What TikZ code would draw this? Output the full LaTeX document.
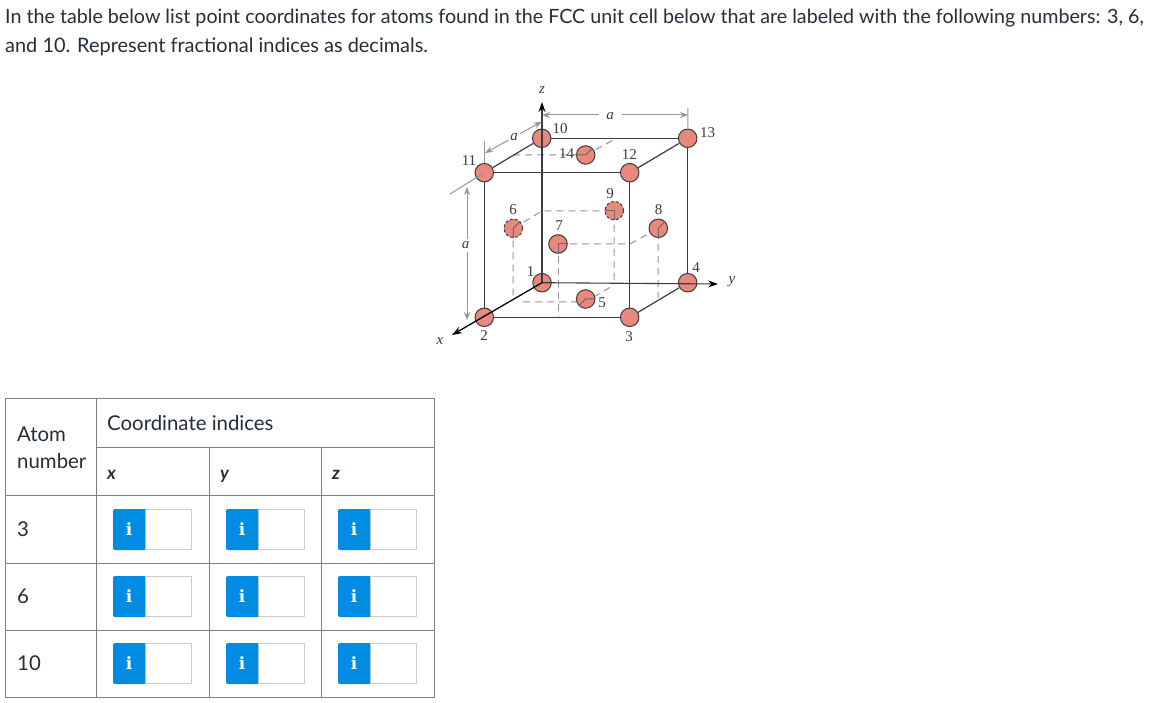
\documentclass[tikz,border=0pt]{standalone}
\usepackage{fontspec}
\setmainfont{Lato}
\newfontfamily\figfont{Liberation Serif}
\newfontfamily\iconfont{DejaVu Serif}
\usepackage{xcolor}
\usepackage{tikz}
\usetikzlibrary{arrows.meta,calc}
\definecolor{ink1} {RGB} {36, 46, 58}
\definecolor{rule1} {RGB} {128, 128, 128}
\definecolor{box1} {RGB} {204, 204, 204}
\definecolor{blue1} {RGB} {0, 140, 226}
\definecolor{atom1} {RGB} {233, 137, 126}
\definecolor{edge1} {RGB} {60, 60, 60}
\definecolor{dim1} {RGB} {150, 150, 150}
\tikzstyle{atom}=[circle,fill=atom1,draw=edge1,line width=1pt,minimum size=18.5pt,inner sep=0pt]
\tikzstyle{backatom}=[atom,densely dashed]
\tikzstyle{cube}=[draw=edge1,line width=1.2pt]
\tikzstyle{hidden}=[draw=dim1,line width=1pt,dash pattern=on 7pt off 5pt]
\tikzstyle{stub}=[draw=dim1!70!black,line width=1pt]
\tikzstyle{dimline}=[draw=dim1,line width=1pt,>={Stealth[length=8pt,width=6pt]}]
\tikzstyle{axis}=[draw=edge1,line width=1.1pt,->,>={Stealth[length=10pt,width=7pt,black]}]
\tikzstyle{fig}=[font=\figfont\fontsize{15}{15}\selectfont,text=edge1,inner sep=0pt]
\tikzstyle{figi}=[fig,font=\figfont\itshape\fontsize{15}{15}\selectfont]
\tikzstyle{txt}=[font=\fontsize{19.67}{23}\selectfont,text=ink1,inner sep=0pt,anchor=base west]
\tikzstyle{cell}=[txt,font=\fontsize{20.4}{24}\selectfont]
\tikzstyle{head}=[txt,font=\itshape\bfseries\fontsize{18}{20}\selectfont]
\tikzstyle{grid}=[draw=rule1,line width=1pt]
\begin{document}
\begin{tikzpicture}[x=1pt,y=-1pt]
  \useasboundingbox[fill=white] (0,0) rectangle (1152,703);
  % question text
  \node[txt] (line1) at (5,24) {In the table below list point coordinates for atoms found in the FCC unit cell below that are labeled with the following numbers: 3, 6,};
  \node[txt,font=\fontsize{19.95}{23}\selectfont] (line2) at (5,53) {and 10. Represent fractional indices as decimals.};
  % free ends of axes and helpers
  \coordinate (ztip) at (542,102);
  \coordinate (ytip) at (718,284);
  \coordinate (xtip) at (452,335);
  \coordinate (h14a) at (513,155);
  \coordinate (h14b) at (617,138);
  \coordinate (h5a) at (523,302);
  \coordinate (h5b) at (614,285);
  \coordinate (h69) at (542,211);
  \coordinate (h78) at (630,244);
  \coordinate (h6d) at (513,296);
  \coordinate (h7d) at (558,317);
  \coordinate (h8d) at (658,298);
  % hidden lines first, atoms cover them
  \draw[hidden] (h14a) -- (585.7,155) -- (h14b);
  \draw[hidden] (h5a) -- (585.7,302) -- (h5b);
  \draw[hidden] (513.3,228.3) -- (h69) -- (614.3,210.7) -- (h5b);
  \draw[hidden] (513.3,228.3) -- (h6d);
  \draw[hidden] (558,244) -- (h7d);
  \draw[hidden] (558,244) -- (h78) -- (658.3,228.3) -- (h8d);
  % atoms
  \node[atom] (a10) at (541.7,138.3) {};
  \node[atom] (a13) at (687.7,138.3) {};
  \node[atom] (a11) at (484.3,172.7) {};
  \node[atom] (a12) at (629.7,172.7) {};
  \node[atom] (a1) at (542,282.7) {};
  \node[atom] (a4) at (687.7,282.7) {};
  \node[atom] (a2) at (484.3,317.3) {};
  \node[atom] (a3) at (629.7,317.3) {};
  \node[atom] (a14) at (585.7,155) {};
  \node[atom] (a5) at (585.7,299) {};
  \node[backatom] (a6) at (513.3,228.3) {};
  \node[atom] (a7) at (558,244) {};
  \node[atom] (a8) at (658.3,228.3) {};
  \node[backatom] (a9) at (614.3,210.7) {};
  % ends of the hidden lines inside the atoms
  \draw[stub] (a6.south) -- (a6.center) -- (a6.north east);
  \draw[stub] (a7.south) -- (a7.center) -- (a7.east);
  \draw[stub] (a8.south) -- (a8.center) -- (a8.north east);
  \draw[stub] (a9.south) -- (a9.center) -- (a9.west);
  \draw[stub] (a14.west) -- (a14.center) -- (a14.north east);
  \draw[stub] (a5.south west) -- (a5.center) -- (a5.east);
  % cube edges
  \draw[cube] (a10) -- (a13);
  \draw[cube] (a11) -- (a12);
  \draw[cube] (a2) -- (a3);
  \draw[cube] (a11) -- (a10);
  \draw[cube] (a12) -- (a13);
  \draw[cube] (a3) -- (a4);
  \draw[cube] (a11) -- (a2);
  \draw[cube] (a12) -- (a3);
  \draw[cube] (a13) -- (a4);
  % axes
  \draw[axis] (a1.center) -- (ztip);
  \draw[axis] (a1.center) -- (ytip);
  \draw[axis,draw=black,line width=1.3pt] (a1.center) -- (xtip);
  % dimension lines
  \coordinate (dza) at (542,115);
  \coordinate (dzb) at (688,115);
  \coordinate (dxa) at (485,153);
  \coordinate (dxb) at (541.7,121.7);
  \coordinate (dva) at (467,187);
  \coordinate (dvb) at (467,320);
  \coordinate (dha) at (450,194);
  \coordinate (dtz) at (688,108);
  \coordinate (dtx) at (484.3,141);
  \draw[dimline] (dtz) -- (a13);
  \draw[dimline] (dtx) -- (a11);
  \draw[dimline] (dha) -- (a11.center);
  \draw[dimline,->] ($(dza)!0.39!(dzb)$) -- (dza);
  \draw[dimline,->] ($(dza)!0.55!(dzb)$) -- (dzb);
  \draw[dimline,->] ($(dxa)!0.41!(dxb)$) -- (dxa);
  \draw[dimline,->] ($(dxa)!0.62!(dxb)$) -- (dxb);
  \draw[dimline,->] ($(dva)!0.39!(dvb)$) -- (dva);
  \draw[dimline,->] ($(dva)!0.49!(dvb)$) -- (dvb);
  % figure labels
  \node[figi] (lz) at (542,90) {z};
  \node[figi] (ly) at (732,282) {y};
  \node[figi] (lx) at (440,341) {x};
  \node[figi] (la1) at (610,115.7) {a};
  \node[figi] (la2) at (514,136.7) {a};
  \node[figi] (la3) at (465.7,245) {a};
  \node[fig] (n1) at (530.7,272) {1};
  \node[fig] (n2) at (484,335.7) {2};
  \node[fig] (n3) at (629,336.7) {3};
  \node[fig] (n4) at (696,267.7) {4};
  \node[fig] (n5) at (602,303) {5};
  \node[fig] (n6) at (513,210) {6};
  \node[fig] (n7) at (559,225.7) {7};
  \node[fig] (n8) at (658.7,209.7) {8};
  \node[fig] (n9) at (610,194) {9};
  \node[fig] (n10) at (560,128.3) {10};
  \node[fig] (n11) at (469,161) {11};
  \node[fig] (n12) at (629.3,155) {12};
  \node[fig] (n13) at (707.7,132.3) {13};
  \node[fig] (n14) at (566.7,154) {14};
  % table grid
  \draw[grid] (5.5,398.5) rectangle (434.5,697.5);
  \draw[grid] (96.5,398.5) -- (96.5,697.5);
  \draw[grid] (209.5,447.5) -- (209.5,697.5);
  \draw[grid] (321.5,447.5) -- (321.5,697.5);
  \draw[grid] (96.5,447.5) -- (434.5,447.5);
  \foreach \y in {495.5,563.5,630.5}
    \draw[grid] (5.5,\y) -- (434.5,\y);
  % table heads
  \node[cell] (atomA) at (17,441) {Atom};
  \node[cell] (atomB) at (17,468) {number};
  \node[cell] (coord) at (107,430) {Coordinate indices};
  \node[head] (hx) at (107,479) {x};
  \node[head] (hy) at (220,479) {y};
  \node[head] (hz) at (332,479) {z};
  % rows with input boxes
  \foreach \row/\num/\yy in {r3/3/509,r6/6/576,r10/10/643}{
    \node[cell] (\row) at (17,\yy+27) {\num};
    \foreach \col/\xx in {cx/113,cy/226,cz/338}{
      \draw[box1,fill=white,line width=1pt] (\xx+32,\yy+.5) rectangle (\xx+78.5,\yy+40.5);
      \fill[blue1,rounded corners=2pt] (\xx,\yy) rectangle (\xx+32,\yy+41);
      \fill[blue1] (\xx+16,\yy) rectangle (\xx+32,\yy+41);
      \node[font=\iconfont\bfseries\fontsize{17}{17}\selectfont,text=white,inner sep=0pt] (\row\col) at (\xx+16,\yy+20) {i};
    }
  }
\end{tikzpicture}
\end{document}
